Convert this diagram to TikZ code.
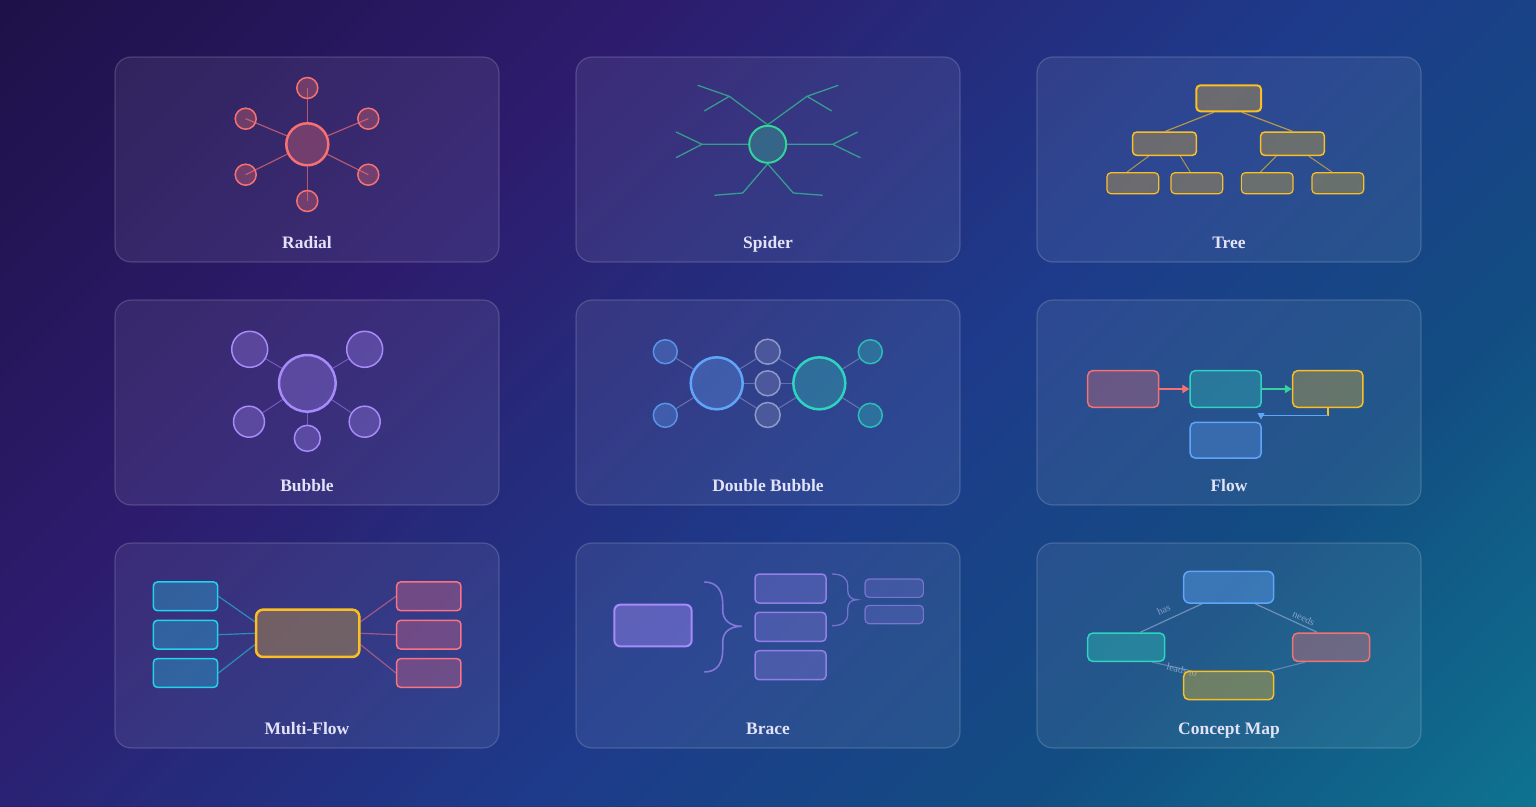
\documentclass[tikz,border=0pt]{standalone}
\usepackage{fontspec}
\setmainfont{Liberation Serif}
\usetikzlibrary{arrows.meta,calc}
\pgfdeclarelayer{back}
\pgfdeclarelayer{edges}
\pgfsetlayers{back,edges,main}
\definecolor{gA}{HTML}{1E1148}
\definecolor{gB}{HTML}{2D1C6E}
\definecolor{gC}{HTML}{1E3A8A}
\definecolor{gD}{HTML}{124D82}
\definecolor{gE}{HTML}{0E7490}
\definecolor{coral}{HTML}{F87171}
\definecolor{mint}{HTML}{34D399}
\definecolor{amber}{HTML}{FBBF24}
\definecolor{lilac}{HTML}{A78BFA}
\definecolor{sky}{HTML}{60A5FA}
\definecolor{teal}{HTML}{2DD4BF}
\definecolor{cyanish}{HTML}{22D3EE}
\definecolor{rose}{HTML}{FB7185}
\definecolor{greyl}{HTML}{B4B8E0}
\definecolor{titlecol}{HTML}{E2E2F7}
\definecolor{cmline}{HTML}{A3B4D6}
\newcommand\gradseg[4]{%
 \foreach \j in {0,...,40}{%
   \pgfmathsetmacro\gs{(#1+(#2-#1)*\j/40)*2342}%
   \pgfmathsetmacro\gp{\j*2.5}%
   \fill[#4!\gp!#3] (\gs,0) -- ({\gs-806},806) -- (1600,806) -- (1600,0) -- cycle;
 }}
\tikzset{
 card/.style={rectangle, draw=white, draw opacity=0.16, fill=white, fill opacity=0.07, rounded corners=16pt, line width=1.2pt, minimum width=384pt, minimum height=205pt, inner sep=0pt},
 title/.style={text=titlecol, font=\fontsize{17.5}{20}\selectfont\bfseries, inner sep=0pt, anchor=base},
 dia/.style={circle, inner sep=0pt, minimum size=#1pt},
 ring/.style={draw=#1, fill=#1, fill opacity=0.3, line width=1.5pt},
 rbox/.style={rectangle, rounded corners=4pt, inner sep=0pt, draw=#1, fill=#1, fill opacity=0.3, line width=1.5pt},
 sz/.style 2 args={minimum width=#1pt, minimum height=#2pt},
 link/.style={draw=#1, draw opacity=0.65, line width=1.2pt},
 cmlabel/.style={text=cmline, text opacity=0.8, font=\fontsize{10}{11}\selectfont, inner sep=0pt},
}
\begin{document}
\begin{tikzpicture}[x=1pt,y=-1pt]
\useasboundingbox (0,0) rectangle (1536,806);
\begin{pgfonlayer}{back}
\begin{scope}
\clip (0,0) rectangle (1536,806);
\gradseg{0}{0.28}{gA}{gB}
\gradseg{0.28}{0.56}{gB}{gC}
\gradseg{0.56}{0.78}{gC}{gD}
\gradseg{0.78}{1.0}{gD}{gE}
\end{scope}
\node[card] (card1) at (307,159.5) {};
\node[card] (card2) at (768,159.5) {};
\node[card] (card3) at (1229,159.5) {};
\node[card] (card4) at (307,402.5) {};
\node[card] (card5) at (768,402.5) {};
\node[card] (card6) at (1229,402.5) {};
\node[card] (card7) at (307,645.5) {};
\node[card] (card8) at (768,645.5) {};
\node[card] (card9) at (1229,645.5) {};
\end{pgfonlayer}

% titles
\node[title] (t1) at (307,248) {Radial};
\node[title] (t2) at (768,248) {Spider};
\node[title] (t3) at (1229,248) {Tree};
\node[title] (t4) at (307,491) {Bubble};
\node[title] (t5) at (768,491) {Double Bubble};
\node[title] (t6) at (1229,491) {Flow};
\node[title] (t7) at (307,734) {Multi-Flow};
\node[title] (t8) at (768,734) {Brace};
\node[title] (t9) at (1229,734) {Concept Map};

% ---------- Radial
\node[dia=42, ring=coral, line width=2.5pt] (rc) at (307.3,144.3) {};
\node[dia=21, ring=coral] (r1) at (307.3,88) {};
\node[dia=21, ring=coral] (r2) at (245.7,118.7) {};
\node[dia=21, ring=coral] (r3) at (368.3,118.7) {};
\node[dia=21, ring=coral] (r4) at (245.7,174.7) {};
\node[dia=21, ring=coral] (r5) at (368.3,174.7) {};
\node[dia=21, ring=coral] (r6) at (307.3,201) {};
\begin{pgfonlayer}{edges}
\foreach \s in {r1,r2,r3,r4,r5,r6} \draw[link=coral] (rc) -- (\s.center);
\end{pgfonlayer}

% ---------- Spider
\node[dia=37, ring=mint, line width=2pt] (sc) at (767.7,144.3) {};
\coordinate (sj1) at (729.3,96.3); \coordinate (se1a) at (697.7,85.3); \coordinate (se1b) at (704.3,111);
\coordinate (sj2) at (807,96.3); \coordinate (se2a) at (838.3,85.3); \coordinate (se2b) at (831.7,111);
\coordinate (sj3) at (702,144.3); \coordinate (se3a) at (676,132); \coordinate (se3b) at (676,157.7);
\coordinate (sj4) at (832.7,144.3); \coordinate (se4a) at (857.7,132); \coordinate (se4b) at (860.3,157.7);
\coordinate (sj5) at (742.7,193); \coordinate (se5) at (714.3,195.3);
\coordinate (sj6) at (793.3,193); \coordinate (se6) at (822.7,195.3);
\begin{pgfonlayer}{edges}
\draw[link=mint, line width=1.3pt] (sc.north) -- (sj1) (se1a) -- (sj1) -- (se1b);
\draw[link=mint, line width=1.3pt] (sc.north) -- (sj2) (se2a) -- (sj2) -- (se2b);
\draw[link=mint, line width=1.3pt] (sc.west) -- (sj3) (se3a) -- (sj3) -- (se3b);
\draw[link=mint, line width=1.3pt] (sc.east) -- (sj4) (se4a) -- (sj4) -- (se4b);
\draw[link=mint, line width=1.3pt] (sc.south) -- (sj5) -- (se5);
\draw[link=mint, line width=1.3pt] (sc.south) -- (sj6) -- (se6);
\end{pgfonlayer}

% ---------- Tree
\node[rbox=amber, sz={64.7}{26}, line width=2pt] (tt) at (1228.7,98.3) {};
\node[rbox=amber, sz={63.7}{23.3}] (tm1) at (1164.5,143.7) {};
\node[rbox=amber, sz={63.7}{23.3}] (tm2) at (1292.5,143.7) {};
\node[rbox=amber, sz={51.7}{21}, line width=1.2pt] (tb1) at (1132.8,183.2) {};
\node[rbox=amber, sz={51.7}{21}, line width=1.2pt] (tb2) at (1196.8,183.2) {};
\node[rbox=amber, sz={51.7}{21}, line width=1.2pt] (tb3) at (1267.2,183.2) {};
\node[rbox=amber, sz={51.7}{21}, line width=1.2pt] (tb4) at (1337.8,183.2) {};
\begin{pgfonlayer}{edges}
\draw[link=amber] ($(tt.south)+(-15,0)$) -- ($(tm1.north)+(1,0)$);
\draw[link=amber] ($(tt.south)+(13.3,0)$) -- (tm2.north);
\draw[link=amber, line width=1pt] ($(tm1.south)+(-15.8,0)$) -- ($(tb1.north)+(-5.8,0)$);
\draw[link=amber, line width=1pt] ($(tm1.south)+(15.8,0)$) -- ($(tb2.north)+(-6.5,0)$);
\draw[link=amber, line width=1pt] ($(tm2.south)+(-16.2,0)$) -- ($(tb3.north)+(-7,0)$);
\draw[link=amber, line width=1pt] ($(tm2.south)+(16.2,0)$) -- ($(tb4.north)+(-5.8,0)$);
\end{pgfonlayer}

% ---------- Bubble
\node[dia=56.6, ring=lilac, line width=2.5pt] (bc) at (307.3,383.3) {};
\node[dia=36, ring=lilac] (b1) at (249.7,349.3) {};
\node[dia=36, ring=lilac] (b2) at (364.7,349.3) {};
\node[dia=31, ring=lilac] (b3) at (249,421.7) {};
\node[dia=31, ring=lilac] (b4) at (364.7,421.7) {};
\node[dia=26, ring=lilac] (b5) at (307.3,438.3) {};
\begin{pgfonlayer}{edges}
\foreach \s in {b1,b2,b3,b4,b5} \draw[link=lilac, draw opacity=0.5, line width=1pt] (bc) -- (\s);
\end{pgfonlayer}

% ---------- Double Bubble
\node[dia=52, ring=sky, line width=2.5pt] (dl) at (716.7,383.3) {};
\node[dia=52, ring=teal, line width=2.5pt] (dr) at (819.3,383.3) {};
\node[dia=25, ring=greyl, draw opacity=0.7, fill opacity=0.2] (dm1) at (767.7,351.7) {};
\node[dia=25, ring=greyl, draw opacity=0.7, fill opacity=0.2] (dm2) at (767.7,383.3) {};
\node[dia=25, ring=greyl, draw opacity=0.7, fill opacity=0.2] (dm3) at (767.7,415) {};
\node[dia=24, ring=sky, draw opacity=0.8] (dol1) at (665.3,351.7) {};
\node[dia=24, ring=sky, draw opacity=0.8] (dol2) at (665.3,415.3) {};
\node[dia=24, ring=teal, draw opacity=0.8] (dor1) at (870.3,351.7) {};
\node[dia=24, ring=teal, draw opacity=0.8] (dor2) at (870.3,415.3) {};
\begin{pgfonlayer}{edges}
\foreach \s in {dol1,dol2,dm1,dm2,dm3} \draw[link=greyl, draw opacity=0.4, line width=1.1pt] (dl) -- (\s);
\foreach \s in {dor1,dor2,dm1,dm2,dm3} \draw[link=greyl, draw opacity=0.4, line width=1.1pt] (dr) -- (\s);
\end{pgfonlayer}

% ---------- Flow
\node[rbox=coral, sz={71}{36.7}, rounded corners=5pt] (f1) at (1123.2,389) {};
\node[rbox=teal, sz={71}{36.7}, rounded corners=5pt] (f2) at (1225.7,389) {};
\node[rbox=amber, sz={70.3}{36.7}, rounded corners=5pt] (f3) at (1327.8,389) {};
\node[rbox=sky, sz={71}{35.7}, rounded corners=5pt] (f4) at (1225.7,440.2) {};
\coordinate (fc) at (1327.8,415.7);
\coordinate (fe) at (1261,415.7);
\begin{pgfonlayer}{edges}
\draw[draw=coral, line width=1.8pt, -{Triangle[length=7pt,width=8pt]}] (f1) -- (f2);
\draw[draw=mint, line width=1.8pt, -{Triangle[length=7pt,width=8pt]}] (f2) -- (f3);
\draw[draw=amber, line width=1.5pt] (f3.south) -- (fc);
\draw[draw=sky, line width=1.5pt] (fc) -- (fe);
\fill[sky] (1257.5,413.2) -- (1264.5,413.2) -- (1261,419.5) -- cycle;
\end{pgfonlayer}

% ---------- Multi-Flow
\node[rbox=cyanish, sz={64.3}{28.7}] (ml1) at (185.5,596.3) {};
\node[rbox=cyanish, sz={64.3}{28.7}] (ml2) at (185.5,634.7) {};
\node[rbox=cyanish, sz={64.3}{28.7}] (ml3) at (185.5,673) {};
\node[rbox=amber, sz={103.3}{47.3}, rounded corners=7pt, line width=2.5pt] (mc) at (307.7,633.3) {};
\node[rbox=rose, sz={64.3}{28.7}] (mr1) at (428.8,596.3) {};
\node[rbox=rose, sz={64.3}{28.7}] (mr2) at (428.8,634.7) {};
\node[rbox=rose, sz={64.3}{28.7}] (mr3) at (428.8,673) {};
\begin{pgfonlayer}{edges}
\draw[link=cyanish, draw opacity=0.55] (ml1.east) -- ($(mc.west)+(0,-11.6)$);
\draw[link=cyanish, draw opacity=0.55] (ml2.east) -- (mc.west);
\draw[link=cyanish, draw opacity=0.55] (ml3.east) -- ($(mc.west)+(0,11.4)$);
\draw[link=rose, draw opacity=0.55] (mr1.west) -- ($(mc.east)+(0,-11.6)$);
\draw[link=rose, draw opacity=0.55] (mr2.west) -- (mc.east);
\draw[link=rose, draw opacity=0.55] (mr3.west) -- ($(mc.east)+(0,11.4)$);
\end{pgfonlayer}

% ---------- Brace
\node[rbox=lilac, sz={77.3}{41.7}, rounded corners=6pt, line width=2pt, fill opacity=0.4] (bl) at (653,625.5) {};
\node[rbox=lilac, sz={71}{29}, draw opacity=0.8, fill opacity=0.25] (bm1) at (790.5,588.5) {};
\node[rbox=lilac, sz={71}{29}, draw opacity=0.8, fill opacity=0.25] (bm2) at (790.5,626.8) {};
\node[rbox=lilac, sz={71}{29}, draw opacity=0.8, fill opacity=0.25] (bm3) at (790.5,665.2) {};
\node[rbox=lilac, sz={58.3}{18.3}, draw opacity=0.6, fill opacity=0.18, line width=1.2pt] (bs1) at (894.2,588.2) {};
\node[rbox=lilac, sz={58.3}{18.3}, draw opacity=0.6, fill opacity=0.18, line width=1.2pt] (bs2) at (894.2,614.5) {};
\draw[lilac, draw opacity=0.7, line width=1.6pt]
 (704.3,582) .. controls (718,582) and (722.7,592) .. (722.7,604) -- (722.7,610)
 .. controls (722.7,620) and (730,626.3) .. (741.7,626.3)
 .. controls (730,626.3) and (722.7,632) .. (722.7,642) -- (722.7,650)
 .. controls (722.7,662) and (718,672) .. (704.3,672);
\draw[lilac, draw opacity=0.6, line width=1.3pt]
 (832,574) .. controls (842,574) and (847.7,578) .. (847.7,586) -- (847.7,590)
 .. controls (847.7,596) and (851,599.7) .. (857,599.7)
 .. controls (851,599.7) and (847.7,603) .. (847.7,609) -- (847.7,614)
 .. controls (847.7,622) and (842,625.7) .. (832,625.7);

% ---------- Concept Map
\begin{pgfonlayer}{edges}
\node[cmlabel, rotate=-14] (lblc) at (1182,670) {leads to};
\end{pgfonlayer}
\node[rbox=sky, sz={90}{31.7}, rounded corners=6pt, fill opacity=0.4] (ct) at (1228.7,587.2) {};
\node[rbox=teal, sz={77}{28.3}, rounded corners=5pt, fill opacity=0.35] (cl) at (1126.2,647.2) {};
\node[rbox=coral, sz={77}{28.3}, rounded corners=5pt, fill opacity=0.35] (cr) at (1331.2,647.2) {};
\node[rbox=amber, sz={90}{28.3}, rounded corners=5pt, fill opacity=0.35] (cb) at (1228.7,685.5) {};
\begin{pgfonlayer}{edges}
\draw[link=cmline, draw opacity=0.6] ($(ct.south)+(-26.7,0)$) -- ($(cl.north)+(14,0)$);
\draw[link=cmline, draw opacity=0.6] ($(ct.south)+(26.6,0)$) -- ($(cr.north)+(-14,0)$);
\draw[link=cmline, draw opacity=0.45] ($(cl.south)+(26,0)$) -- ($(cb.north)+(-38.7,0)$);
\draw[link=cmline, draw opacity=0.45] ($(cr.south)+(-26,0)$) -- ($(cb.north)+(43,0)$);
\end{pgfonlayer}
\node[cmlabel, rotate=25] (lbla) at (1163.7,609.7) {has};
\node[cmlabel, rotate=-25] (lblb) at (1303.7,618) {needs};
\end{tikzpicture}
\end{document}
